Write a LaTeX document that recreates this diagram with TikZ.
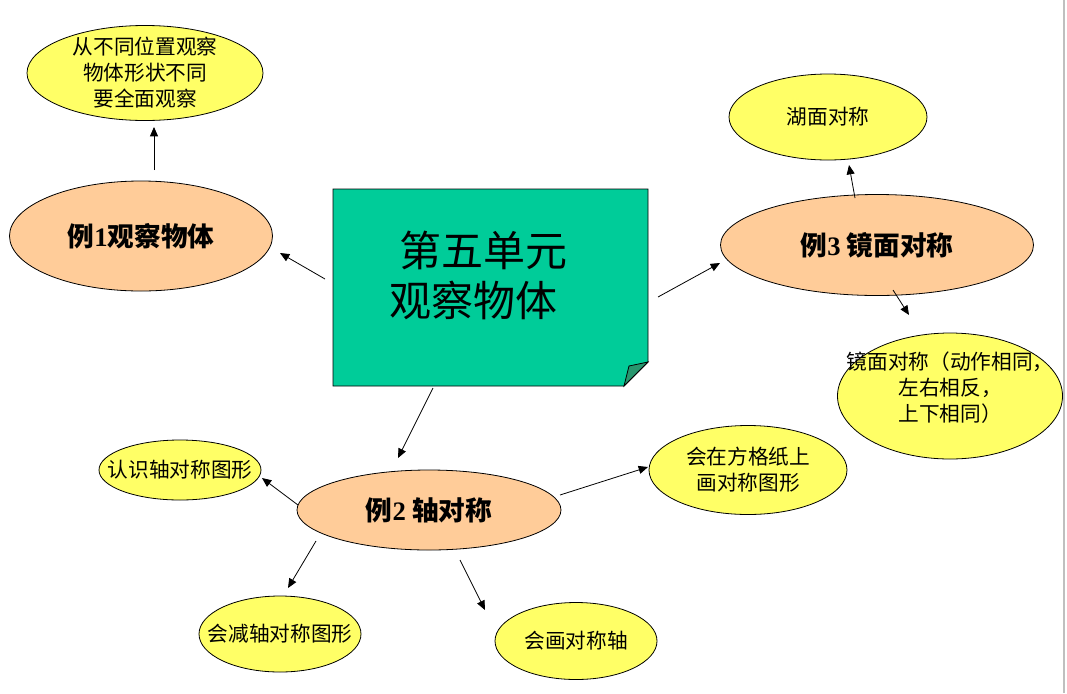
\documentclass[tikz,border=0pt]{standalone}
\usepackage{fontspec}
\usetikzlibrary{shapes.geometric,arrows.meta}
\newfontfamily\cjk{Noto Sans CJK SC}
\newfontfamily\latb{Liberation Serif}
\definecolor{yel}{RGB}{255,255,102}
\definecolor{peach}{RGB}{255,204,153}
\definecolor{teal2}{RGB}{0,204,153}
\definecolor{fold}{RGB}{40,150,110}
\tikzset{
  ell/.style 2 args={ellipse,draw=black,line width=0.6pt,inner sep=0pt,minimum width=#1*0.75pt,minimum height=#2*0.75pt},
  ytxt/.style={font=\cjk\fontsize{15.5}{19.5}\selectfont,align=center,inner sep=0pt},
  ptxt/.style={font=\cjk\bfseries\fontsize{20}{24}\selectfont,align=center,inner sep=0pt},
  yell/.style={fill=yel},
  pch/.style={fill=peach},
  arr/.style={-{Triangle[length=7pt,width=6pt]},line width=0.6pt}
}
\begin{document}
\begin{tikzpicture}[x=0.75pt,y=-0.75pt]
\useasboundingbox (0,0) rectangle (1067,693);
\fill[white] (0,0) rectangle (1067,693);
\draw[line width=2pt,gray!50] (1064,0) -- (1064,693);
% central note
\draw[fill=teal2,line width=0.6pt] (333,189) -- (648,189) -- (648,362) -- (624,386) -- (333,386) -- cycle;
\draw[fill=fold,line width=0.6pt] (624,386) -- (629,366) -- (648,362) -- cycle;
\node[font=\cjk\fontsize{31.5}{37.5}\selectfont,align=left,anchor=west] (c) at (385,275) {\hspace{7.5pt}第五单元\\观察物体};
\coordinate (cw) at (325,279);
\coordinate (ce) at (658,297);
\coordinate (cs) at (433,388);
% example 1
\node[ell={263}{110},pch,label={[ptxt]center:例{\latb 1}观察物体}] (e1) at (141,236) {};
\node[ell={236}{95},yell,label={[ytxt]center:从不同位置观察\\物体形状不同\\要全面观察}] (t1) at (145,73) {};
\coordinate (e1a) at (154,170);
\coordinate (e1b) at (154,127);
\coordinate (e1w) at (280,253);
\draw[arr] (e1a) -- (e1b);
\draw[arr] (cw) -- (e1w);
% example 3
\node[ell={313}{101},pch,label={[ptxt]center:例{\latb 3} 镜面对称}] (e3) at (877,245) {};
\node[ell={198}{86},yell,label={[ytxt]center:湖面对称}] (t3a) at (828,117) {};
\node[ell={225}{126},yell,label={[ytxt,yshift=6pt]center:镜面对称（动作相同，\\左右相反，\\上下相同）}] (t3b) at (950,396) {};
\coordinate (e3w) at (720,263);
\coordinate (e3n) at (855,198);
\coordinate (t3as) at (849,165);
\coordinate (e3s) at (893,290);
\coordinate (t3bn) at (909,315);
\draw[arr] (ce) -- (e3w);
\draw[arr] (e3n) -- (t3as);
\draw[arr] (e3s) -- (t3bn);
% example 2
\node[ell={264}{80},pch,label={[ptxt]center:例{\latb 2} 轴对称}] (e2) at (429,510) {};
\node[ell={162}{60},yell,label={[ytxt]center:认识轴对称图形}] (t2a) at (180,470) {};
\node[ell={198}{89},yell,label={[ytxt]center:会在方格纸上\\画对称图形}] (t2b) at (748,470) {};
\node[ell={162}{76},yell,label={[ytxt]center:会减轴对称图形}] (t2c) at (280,634) {};
\node[ell={162}{77},yell,label={[ytxt]center:会画对称轴}] (t2d) at (576,641) {};
\coordinate (e2n) at (398,458);
\coordinate (e2w) at (298,505);
\coordinate (t2ae) at (262,478);
\coordinate (e2e) at (560,495);
\coordinate (t2bw) at (648,467);
\coordinate (e2sw) at (316,541);
\coordinate (t2cn) at (288,588);
\coordinate (e2se) at (460,560);
\coordinate (t2dn) at (485,610);
\draw[arr] (cs) -- (e2n);
\draw[arr] (e2w) -- (t2ae);
\draw[arr] (e2e) -- (t2bw);
\draw[arr] (e2sw) -- (t2cn);
\draw[arr] (e2se) -- (t2dn);
\end{tikzpicture}
\end{document}
